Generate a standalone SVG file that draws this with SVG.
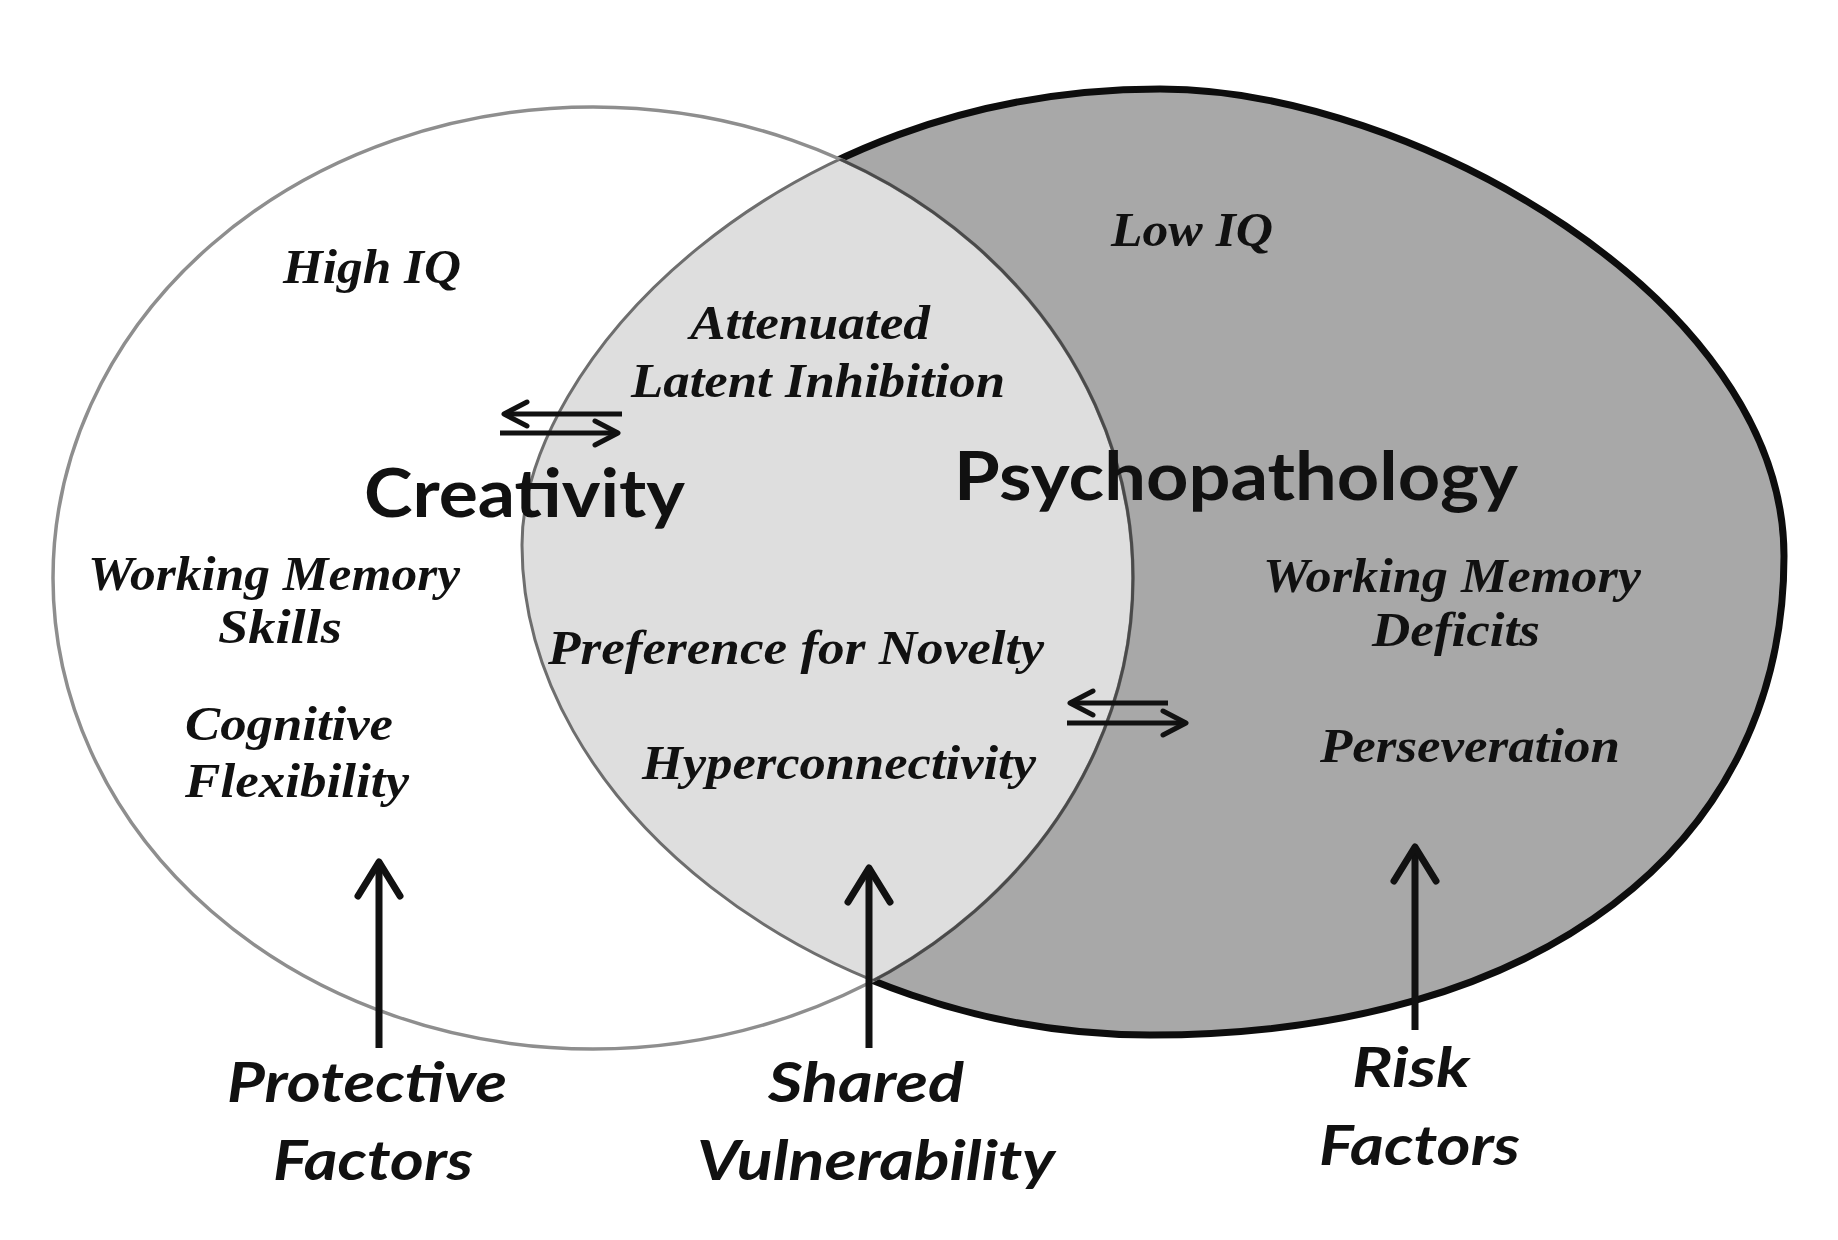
<svg xmlns="http://www.w3.org/2000/svg" xmlns:xlink="http://www.w3.org/1999/xlink" width="1838" height="1240" viewBox="0 0 1838 1240">
  <style>
    .serif { font-family: "Liberation Serif", "Times New Roman", serif; font-weight: bold; font-style: italic; font-size: 49px; fill: #111; }
    .big { font-family: Lato, "Open Sans", "Liberation Sans", sans-serif; font-weight: 700; font-size: 66px; fill: #111; }
    .foot { font-family: Lato, "Open Sans", "Liberation Sans", sans-serif; font-weight: 700; font-style: italic; font-size: 55px; fill: #111; }
    .conn { fill: none; stroke: #111; stroke-linecap: butt; }
    .pair { stroke-width: 5; }
    .vert { stroke-width: 7; }
  </style>
  <defs>
    <ellipse id="leftShape" cx="593" cy="578" rx="540" ry="471"/>
    <path id="rightShape" d="M522,545 C522,362.6 777,89 1160,89 C1409,89 1784,298 1784,556 C1784,846 1540,1035 1150,1035 C817.2,1035 522,804.7 522,545 Z"/>
    <clipPath id="clipLeft"><use xlink:href="#leftShape"/></clipPath>
    <clipPath id="clipRight"><use xlink:href="#rightShape"/></clipPath>
    <marker id="headSmall" markerUnits="userSpaceOnUse" viewBox="0 0 30 30" markerWidth="30" markerHeight="30" refX="26" refY="15" orient="auto-start-reverse">
      <path d="M3,3 L26,15 L3,27" fill="none" stroke="#111" stroke-width="5" stroke-linejoin="round" stroke-linecap="round"/>
    </marker>
    <marker id="headBig" markerUnits="userSpaceOnUse" viewBox="0 0 44 50" markerWidth="44" markerHeight="50" refX="38" refY="25" orient="auto">
      <path d="M4,4 L38,25 L4,46" fill="none" stroke="#111" stroke-width="7" stroke-linejoin="round" stroke-linecap="round"/>
    </marker>
  </defs>

  <rect width="1838" height="1240" fill="#fff"/>

  <g id="psychopathology-circle">
    <use xlink:href="#rightShape" fill="#a8a8a8" stroke="#0d0d0d" stroke-width="7"/>
  </g>
  <g id="creativity-circle">
    <use xlink:href="#leftShape" fill="#fff"/>
  </g>
  <g id="shared-region">
    <use xlink:href="#rightShape" clip-path="url(#clipLeft)" fill="#dedede" stroke="#6e6e6e" stroke-width="3"/>
  </g>
  <g id="creativity-outline">
    <use xlink:href="#leftShape" fill="none" stroke="#8e8e8e" stroke-width="3.5"/>
    <use xlink:href="#leftShape" clip-path="url(#clipRight)" fill="none" stroke="#4a4a4a" stroke-width="3"/>
  </g>

  <g id="creativity">
    <text class="big" x="364" y="517" textLength="321" lengthAdjust="spacingAndGlyphs">Creativity</text>
  </g>
  <g id="psychopathology">
    <text class="big" x="954" y="500" textLength="564" lengthAdjust="spacingAndGlyphs">Psychopathology</text>
  </g>

  <g id="high-iq">
    <text class="serif" x="283" y="283" textLength="178" lengthAdjust="spacingAndGlyphs">High IQ</text>
  </g>
  <g id="working-memory-skills">
    <text class="serif" x="88" y="590" textLength="372" lengthAdjust="spacingAndGlyphs">Working Memory</text>
    <text class="serif" x="218" y="643" textLength="124" lengthAdjust="spacingAndGlyphs">Skills</text>
  </g>
  <g id="cognitive-flexibility">
    <text class="serif" x="185" y="740" textLength="208" lengthAdjust="spacingAndGlyphs">Cognitive</text>
    <text class="serif" x="185" y="797" textLength="224" lengthAdjust="spacingAndGlyphs">Flexibility</text>
  </g>

  <g id="attenuated-latent-inhibition">
    <text class="serif" x="690" y="339" textLength="240" lengthAdjust="spacingAndGlyphs">Attenuated</text>
    <text class="serif" x="631" y="397" textLength="374" lengthAdjust="spacingAndGlyphs">Latent Inhibition</text>
  </g>
  <g id="preference-for-novelty">
    <text class="serif" x="548" y="664" textLength="496" lengthAdjust="spacingAndGlyphs">Preference for Novelty</text>
  </g>
  <g id="hyperconnectivity">
    <text class="serif" x="642" y="779" textLength="394" lengthAdjust="spacingAndGlyphs">Hyperconnectivity</text>
  </g>

  <g id="low-iq">
    <text class="serif" x="1111" y="246" textLength="162" lengthAdjust="spacingAndGlyphs">Low IQ</text>
  </g>
  <g id="working-memory-deficits">
    <text class="serif" x="1263" y="592" textLength="378" lengthAdjust="spacingAndGlyphs">Working Memory</text>
    <text class="serif" x="1372" y="646" textLength="168" lengthAdjust="spacingAndGlyphs">Deficits</text>
  </g>
  <g id="perseveration">
    <text class="serif" x="1320" y="762" textLength="300" lengthAdjust="spacingAndGlyphs">Perseveration</text>
  </g>

  <g id="protective-factors">
    <text class="foot" x="227" y="1102" textLength="280" lengthAdjust="spacingAndGlyphs">Protective</text>
    <text class="foot" x="273" y="1180" textLength="200" lengthAdjust="spacingAndGlyphs">Factors</text>
  </g>
  <g id="shared-vulnerability">
    <text class="foot" x="768" y="1102" textLength="196" lengthAdjust="spacingAndGlyphs">Shared</text>
    <text class="foot" x="697" y="1180" textLength="358" lengthAdjust="spacingAndGlyphs">Vulnerability</text>
  </g>
  <g id="risk-factors">
    <text class="foot" x="1352" y="1087" textLength="118" lengthAdjust="spacingAndGlyphs">Risk</text>
    <text class="foot" x="1319" y="1165" textLength="201" lengthAdjust="spacingAndGlyphs">Factors</text>
  </g>

  <g id="connectors">
    <path class="conn pair" d="M622,414 L504,414" marker-end="url(#headSmall)"/>
    <path class="conn pair" d="M500,433 L618,433" marker-end="url(#headSmall)"/>
    <path class="conn pair" d="M1168,703 L1070,703" marker-end="url(#headSmall)"/>
    <path class="conn pair" d="M1067,723 L1186,723" marker-end="url(#headSmall)"/>
    <path class="conn vert" d="M379,1048 L379,862" marker-end="url(#headBig)"/>
    <path class="conn vert" d="M869,1048 L869,868" marker-end="url(#headBig)"/>
    <path class="conn vert" d="M1415,1030 L1415,847" marker-end="url(#headBig)"/>
  </g>
</svg>
